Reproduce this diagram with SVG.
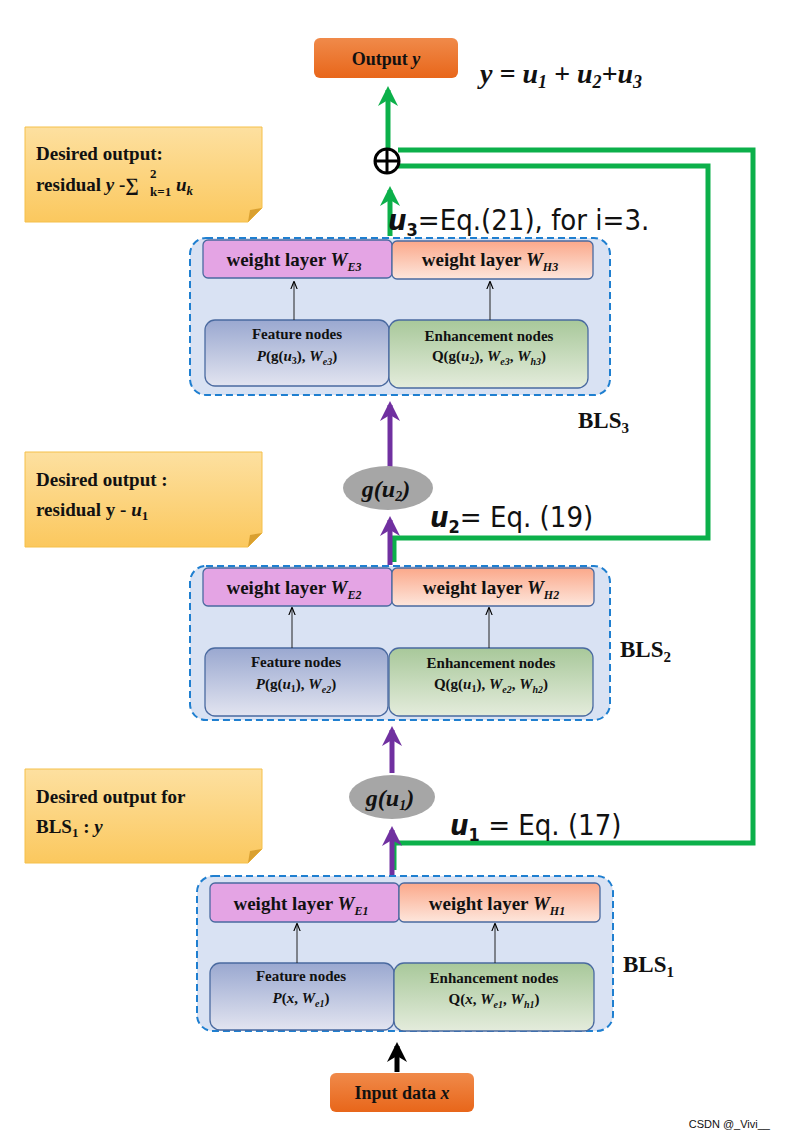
<svg xmlns="http://www.w3.org/2000/svg" width="785" height="1139" viewBox="0 0 785 1139">
<defs>
<linearGradient id="og" x1="0" y1="0" x2="0" y2="1"><stop offset="0" stop-color="#f08a4a"/><stop offset="1" stop-color="#e8661a"/></linearGradient>
<linearGradient id="yg" x1="0" y1="0" x2="0" y2="1"><stop offset="0" stop-color="#fde0a0"/><stop offset="1" stop-color="#fbc85e"/></linearGradient>
<linearGradient id="fg" x1="0" y1="0" x2="0" y2="1"><stop offset="0" stop-color="#9aa8d0"/><stop offset="1" stop-color="#e2e4f0"/></linearGradient>
<linearGradient id="eg" x1="0" y1="0" x2="0" y2="1"><stop offset="0" stop-color="#a8c89a"/><stop offset="1" stop-color="#e4ecdc"/></linearGradient>
<linearGradient id="hg" x1="0" y1="0" x2="0" y2="1"><stop offset="0" stop-color="#fba88a"/><stop offset="1" stop-color="#fde6dc"/></linearGradient>
<marker id="ga" viewBox="0 0 10 10" refX="8" refY="5" markerWidth="4" markerHeight="5" orient="auto"><path d="M0,0 L10,5 L0,10 L3,5 Z" fill="#0cb04a"/></marker>
<marker id="pa" viewBox="0 0 10 10" refX="8" refY="5" markerWidth="4" markerHeight="5" orient="auto"><path d="M0,0 L10,5 L0,10 L3,5 Z" fill="#7030a0"/></marker>
<marker id="ba" viewBox="0 0 10 10" refX="8" refY="5" markerWidth="4" markerHeight="5" orient="auto"><path d="M0,0 L10,5 L0,10 L3,5 Z" fill="#000"/></marker>
<marker id="sa" viewBox="0 0 10 10" refX="9" refY="5" markerWidth="8" markerHeight="8" orient="auto" markerUnits="userSpaceOnUse"><path d="M0,1 L10,5 L0,9" fill="none" stroke="#000" stroke-width="1.4"/></marker>
</defs>
<style>
text{font-family:"Liberation Serif",serif;font-weight:bold;fill:#111}
.dash{fill:#d9e2f3;stroke:#1f7fd0;stroke-width:2;stroke-dasharray:7,4}
.wl{fill:#e4a4e4;stroke:#4a6aa0;stroke-width:1.3}
.wh{fill:url(#hg);stroke:#4a6aa0;stroke-width:1.3}
.fn{fill:url(#fg);stroke:#4a6aa0;stroke-width:1.3}
.en{fill:url(#eg);stroke:#4a6aa0;stroke-width:1.3}
.note{fill:url(#yg);stroke:#f5c04a;stroke-width:1}
.io{fill:url(#og)}
.t16{font-size:18px}
.wt{font-size:19px}
.t14{font-size:15px}
.nt{font-size:19px}
.lbl{font-size:23px}
.eq{font-family:"DejaVu Sans Condensed","Liberation Sans Narrow",sans-serif;font-weight:normal;font-size:29px}
.g{stroke:#0cb04a;stroke-width:5;fill:none}
.p{stroke:#7030a0;stroke-width:5;fill:none}
.thin{stroke:#222;stroke-width:1;fill:none}
</style>

<g id="connectors">
<path class="g" d="M390,236 V190" marker-end="url(#ga)"/>
<path class="g" d="M388,148 V90" marker-end="url(#ga)"/>
<path class="g" d="M398,150 H753 V843 H394 V870"/>
<path class="g" d="M398,166 H708 V538 H394 V562"/>
<path class="p" d="M390,468 V405" marker-end="url(#pa)"/>
<path class="p" d="M390,565 V520" marker-end="url(#pa)"/>
<path class="p" d="M392,773 V730" marker-end="url(#pa)"/>
<path class="p" d="M392,875 V830" marker-end="url(#pa)"/>
<path d="M397,1072 V1046" stroke="#000" stroke-width="5" marker-end="url(#ba)"/>
</g>

<g id="sum">
<circle cx="387" cy="161" r="12" fill="#fff" stroke="#000" stroke-width="3"/>
<path d="M375,161 H399 M387,149 V173" stroke="#000" stroke-width="3"/>
</g>

<g id="output">
<rect class="io" x="314" y="38" width="144" height="40" rx="6"/>
<text x="386" y="65" text-anchor="middle" class="t16">Output <tspan font-style="italic">y</tspan></text>
</g>
<text x="480" y="83" font-size="28" font-style="italic">y = u<tspan font-size="18" dy="5">1</tspan><tspan dy="-5"> + u</tspan><tspan font-size="18" dy="5">2</tspan><tspan dy="-5">+u</tspan><tspan font-size="18" dy="5">3</tspan></text>

<g id="note3">
<path class="note" d="M25,127 H262 V208 L248,222 H25 Z"/>
<path d="M262,208 L248,222 L250,210 Z" fill="#d9a030"/>
<text x="36" y="160" class="nt">Desired output:</text>
<text x="36" y="191" class="nt">residual  <tspan font-style="italic">y</tspan> -∑</text>
<text x="150" y="178" font-size="13">2</text>
<text x="150" y="196" font-size="13">k=1</text>
<text x="176" y="191" class="nt" font-style="italic">u<tspan font-size="13" dy="4">k</tspan></text>
</g>
<g id="note2">
<path class="note" d="M25,452 H262 V533 L248,547 H25 Z"/>
<path d="M262,533 L248,547 L250,535 Z" fill="#d9a030"/>
<text x="36" y="486" class="nt">Desired output :</text>
<text x="36" y="516" class="nt">residual  y - <tspan font-style="italic">u</tspan><tspan font-size="13" dy="4">1</tspan></text>
</g>
<g id="note1">
<path class="note" d="M25,769 H262 V849 L248,863 H25 Z"/>
<path d="M262,849 L248,863 L250,851 Z" fill="#d9a030"/>
<text x="36" y="803" class="nt">Desired output for</text>
<text x="36" y="833" class="nt">BLS<tspan font-size="13" dy="4">1</tspan><tspan dy="-4"> :  </tspan><tspan font-style="italic">y</tspan></text>
</g>

<text x="388" y="230" class="eq"><tspan font-style="italic" font-weight="bold">u</tspan><tspan font-size="18" font-weight="bold" dy="6">3</tspan><tspan dy="-6">=Eq.(21), for i=3.</tspan></text>

<g id="bls3">
<rect class="dash" x="190" y="238" width="420" height="157" rx="16"/>
<rect class="wl" x="203" y="240" width="189" height="38" rx="5"/>
<rect class="wh" x="392" y="241" width="201" height="38" rx="5"/>
<rect class="fn" x="205" y="320" width="184" height="66" rx="10"/>
<rect class="en" x="389" y="320" width="199" height="68" rx="10"/>
<path class="thin" d="M294,320 V282" marker-end="url(#sa)"/>
<path class="thin" d="M490,320 V282" marker-end="url(#sa)"/>
<text x="294" y="266" text-anchor="middle" class="wt">weight layer <tspan font-style="italic">W</tspan><tspan font-style="italic" font-size="12" dy="5">E3</tspan></text>
<text x="490" y="266" text-anchor="middle" class="wt">weight layer <tspan font-style="italic">W</tspan><tspan font-style="italic" font-size="12" dy="5">H3</tspan></text>
<text x="297" y="339" text-anchor="middle" class="t14">Feature nodes</text>
<text x="297" y="361" text-anchor="middle" class="t14"><tspan font-style="italic">P</tspan>(g(<tspan font-style="italic">u</tspan><tspan font-size="10" dy="3">3</tspan><tspan dy="-3">), </tspan><tspan font-style="italic">W</tspan><tspan font-size="10" font-style="italic" dy="4">e3</tspan><tspan dy="-4">)</tspan></text>
<text x="489" y="341" text-anchor="middle" class="t14">Enhancement nodes</text>
<text x="489" y="361" text-anchor="middle" class="t14">Q(g(<tspan font-style="italic">u</tspan><tspan font-size="10" dy="3">2</tspan><tspan dy="-3">), </tspan><tspan font-style="italic">W</tspan><tspan font-size="10" font-style="italic" dy="4">e3</tspan><tspan dy="-4">, </tspan><tspan font-style="italic">W</tspan><tspan font-size="10" font-style="italic" dy="4">h3</tspan><tspan dy="-4">)</tspan></text>
</g>
<text x="578" y="428" class="lbl">BLS<tspan font-size="15" dy="5">3</tspan></text>

<g id="gu2">
<ellipse cx="388" cy="488" rx="45" ry="22" fill="#a6a6a6"/>
<text x="386" y="497" text-anchor="middle" font-size="24" font-style="italic">g(u<tspan font-size="14" dy="4">2</tspan><tspan dy="-4">)</tspan></text>
</g>
<text x="430" y="527" class="eq"><tspan font-style="italic" font-weight="bold">u</tspan><tspan font-size="18" font-weight="bold" dy="6">2</tspan><tspan dy="-6">= Eq. (19)</tspan></text>

<g id="bls2">
<rect class="dash" x="190" y="566" width="420" height="154" rx="16"/>
<rect class="wl" x="203" y="568" width="189" height="38" rx="5"/>
<rect class="wh" x="392" y="568" width="202" height="38" rx="5"/>
<rect class="fn" x="205" y="648" width="183" height="68" rx="10"/>
<rect class="en" x="389" y="648" width="204" height="68" rx="10"/>
<path class="thin" d="M292,648 V608" marker-end="url(#sa)"/>
<path class="thin" d="M489,648 V608" marker-end="url(#sa)"/>
<text x="294" y="594" text-anchor="middle" class="wt">weight layer <tspan font-style="italic">W</tspan><tspan font-style="italic" font-size="12" dy="5">E2</tspan></text>
<text x="491" y="594" text-anchor="middle" class="wt">weight layer <tspan font-style="italic">W</tspan><tspan font-style="italic" font-size="12" dy="5">H2</tspan></text>
<text x="296" y="667" text-anchor="middle" class="t14">Feature nodes</text>
<text x="296" y="689" text-anchor="middle" class="t14"><tspan font-style="italic">P</tspan>(g(<tspan font-style="italic">u</tspan><tspan font-size="10" dy="3">1</tspan><tspan dy="-3">), </tspan><tspan font-style="italic">W</tspan><tspan font-size="10" font-style="italic" dy="4">e2</tspan><tspan dy="-4">)</tspan></text>
<text x="491" y="668" text-anchor="middle" class="t14">Enhancement nodes</text>
<text x="491" y="689" text-anchor="middle" class="t14">Q(g(<tspan font-style="italic">u</tspan><tspan font-size="10" dy="3">1</tspan><tspan dy="-3">), </tspan><tspan font-style="italic">W</tspan><tspan font-size="10" font-style="italic" dy="4">e2</tspan><tspan dy="-4">, </tspan><tspan font-style="italic">W</tspan><tspan font-size="10" font-style="italic" dy="4">h2</tspan><tspan dy="-4">)</tspan></text>
</g>
<text x="620" y="657" class="lbl">BLS<tspan font-size="15" dy="5">2</tspan></text>

<g id="gu1">
<ellipse cx="392" cy="797" rx="43" ry="22" fill="#a6a6a6"/>
<text x="390" y="806" text-anchor="middle" font-size="24" font-style="italic">g(u<tspan font-size="14" dy="4">1</tspan><tspan dy="-4">)</tspan></text>
</g>
<text x="450" y="835" class="eq"><tspan font-style="italic" font-weight="bold">u</tspan><tspan font-size="18" font-weight="bold" dy="6">1</tspan><tspan dy="-6"> = Eq. (17)</tspan></text>

<g id="bls1">
<rect class="dash" x="197" y="876" width="416" height="155" rx="16"/>
<rect class="wl" x="210" y="883" width="189" height="39" rx="5"/>
<rect class="wh" x="399" y="883" width="201" height="39" rx="5"/>
<rect class="fn" x="210" y="963" width="184" height="67" rx="10"/>
<rect class="en" x="394" y="963" width="200" height="68" rx="10"/>
<path class="thin" d="M297,963 V924" marker-end="url(#sa)"/>
<path class="thin" d="M495,963 V924" marker-end="url(#sa)"/>
<text x="301" y="910" text-anchor="middle" class="wt">weight layer <tspan font-style="italic">W</tspan><tspan font-style="italic" font-size="12" dy="5">E1</tspan></text>
<text x="497" y="910" text-anchor="middle" class="wt">weight layer <tspan font-style="italic">W</tspan><tspan font-style="italic" font-size="12" dy="5">H1</tspan></text>
<text x="301" y="981" text-anchor="middle" class="t14">Feature nodes</text>
<text x="301" y="1003" text-anchor="middle" class="t14"><tspan font-style="italic">P</tspan>(<tspan font-style="italic">x</tspan>, <tspan font-style="italic">W</tspan><tspan font-size="10" font-style="italic" dy="4">e1</tspan><tspan dy="-4">)</tspan></text>
<text x="494" y="983" text-anchor="middle" class="t14">Enhancement nodes</text>
<text x="494" y="1004" text-anchor="middle" class="t14">Q(<tspan font-style="italic">x</tspan>, <tspan font-style="italic">W</tspan><tspan font-size="10" font-style="italic" dy="4">e1</tspan><tspan dy="-4">, </tspan><tspan font-style="italic">W</tspan><tspan font-size="10" font-style="italic" dy="4">h1</tspan><tspan dy="-4">)</tspan></text>
</g>
<text x="623" y="972" class="lbl">BLS<tspan font-size="15" dy="5">1</tspan></text>

<g id="input">
<rect class="io" x="330" y="1073" width="144" height="39" rx="6"/>
<text x="402" y="1099" text-anchor="middle" class="t16">Input data <tspan font-style="italic">x</tspan></text>
</g>
<text x="770" y="1128" text-anchor="end" style="font-family:'Liberation Sans',sans-serif;font-weight:normal" font-size="11" fill="#666">CSDN @_Vivi__</text>
</svg>
